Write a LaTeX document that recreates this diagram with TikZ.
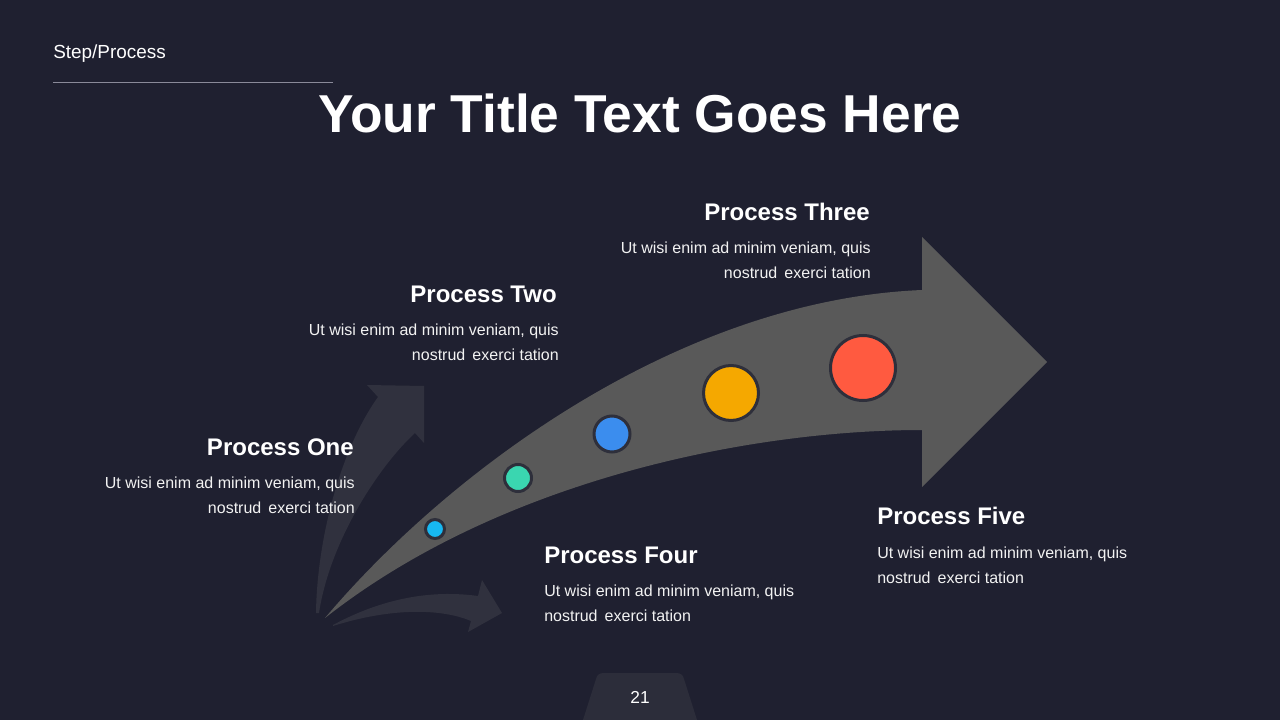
\documentclass[tikz,border=0pt]{standalone}
\usepackage{fontspec}
\setmainfont{Liberation Sans}
\definecolor{bg}{HTML}{1F2030}
\definecolor{ghost}{HTML}{30313E}
\definecolor{bigarrow}{HTML}{595959}
\definecolor{tabc}{HTML}{2C2D3A}
\definecolor{rulec}{HTML}{8A8A99}
\definecolor{ringc}{HTML}{2E2F3B}
\definecolor{cyanc}{HTML}{17B8F2}
\definecolor{tealc}{HTML}{3AD6B0}
\definecolor{bluec}{HTML}{3B8DEE}
\definecolor{orangec}{HTML}{F5A800}
\definecolor{redc}{HTML}{FF5A40}
\definecolor{bodyc}{HTML}{F2F2F2}
\begin{document}
\begin{tikzpicture}[x=0.75pt,y=-0.75pt,
  headtxt/.style={text=white, inner sep=0pt, font=\fontsize{18pt}{22pt}\selectfont\bfseries},
  bodytxt/.style={text=bodyc, inner sep=0pt, font=\fontsize{12pt}{18.75pt}\selectfont},
  dotc/.style={circle, draw=ringc, line width=2.25pt, inner sep=0pt}]
\fill[bg] (0,0) rectangle (1280,720);
\useasboundingbox (0,0) rectangle (1280,720);
% header
\node[text=white, inner sep=0pt, anchor=base west, font=\fontsize{14.2pt}{16pt}\selectfont] (step) at (53,59) {Step/Process};
\coordinate (r1) at (53,83);
\coordinate (r2) at (333,83);
\draw[rulec, line width=0.75pt] (r1) -- (r2);
\node[text=white, inner sep=0pt, anchor=base, font=\fontsize{40pt}{46pt}\selectfont\bfseries] (title) at (640,133) {Your Title Text Goes Here};
% ghost arrows
\fill[ghost] (316,613) .. controls (317,540) and (340,450) .. (378,397)
  -- (367,385) -- (424,386) -- (424,443) -- (415,433)
  .. controls (380,465) and (330,540) .. (319,613) -- cycle;
\fill[ghost] (333,625) .. controls (370,605) and (420,588) .. (478,596)
  -- (482,580) -- (502,613) -- (468,632) -- (471,621)
  .. controls (440,608) and (390,608) .. (333,626) -- cycle;
% big arrow
\fill[bigarrow] (325,618) .. controls (450,470) and (680,300) .. (922,290)
  -- (922,237) -- (1047,362) -- (922,487) -- (922,430)
  .. controls (750,430) and (500,480) .. (325,618) -- cycle;
% dots
\node[dotc, fill=cyanc, minimum size=14.25pt] (d1) at (435,529) {};
\node[dotc, fill=tealc, minimum size=20.25pt] (d2) at (518,478) {};
\node[dotc, fill=bluec, minimum size=27pt] (d3) at (612,434) {};
\node[dotc, fill=orangec, minimum size=41.25pt] (d4) at (731,393) {};
\node[dotc, fill=redc, minimum size=48.75pt] (d5) at (863,368) {};
% texts (body anchor = baseline of last line)
\node[headtxt, anchor=base east] (h1) at (354,455) {Process One};
\node[bodytxt, anchor=base east, align=right] (b1) at (355,513) {Ut wisi enim ad minim veniam, quis\\nostrud\, exerci tation};
\node[headtxt, anchor=base east] (h2) at (557,302) {Process Two};
\node[bodytxt, anchor=base east, align=right] (b2) at (559,360) {Ut wisi enim ad minim veniam, quis\\nostrud\, exerci tation};
\node[headtxt, anchor=base east] (h3) at (870,220) {Process Three};
\node[bodytxt, anchor=base east, align=right] (b3) at (871,278) {Ut wisi enim ad minim veniam, quis\\nostrud\, exerci tation};
\node[headtxt, anchor=base west] (h4) at (544,563) {Process Four};
\node[bodytxt, anchor=base west, align=left] (b4) at (544,621) {Ut wisi enim ad minim veniam, quis\\nostrud\, exerci tation};
\node[headtxt, anchor=base west] (h5) at (877,524) {Process Five};
\node[bodytxt, anchor=base west, align=left] (b5) at (877,583) {Ut wisi enim ad minim veniam, quis\\nostrud\, exerci tation};
% page tab
\fill[tabc] (583,720) -- (596,679) .. controls (597,675) and (599,673) .. (604,673)
  -- (676,673) .. controls (681,673) and (683,675) .. (684,679) -- (697,720) -- cycle;
\node[text=white, inner sep=0pt, anchor=base, font=\fontsize{13pt}{15pt}\selectfont] (pg) at (640,703) {21};
\end{tikzpicture}
\end{document}
